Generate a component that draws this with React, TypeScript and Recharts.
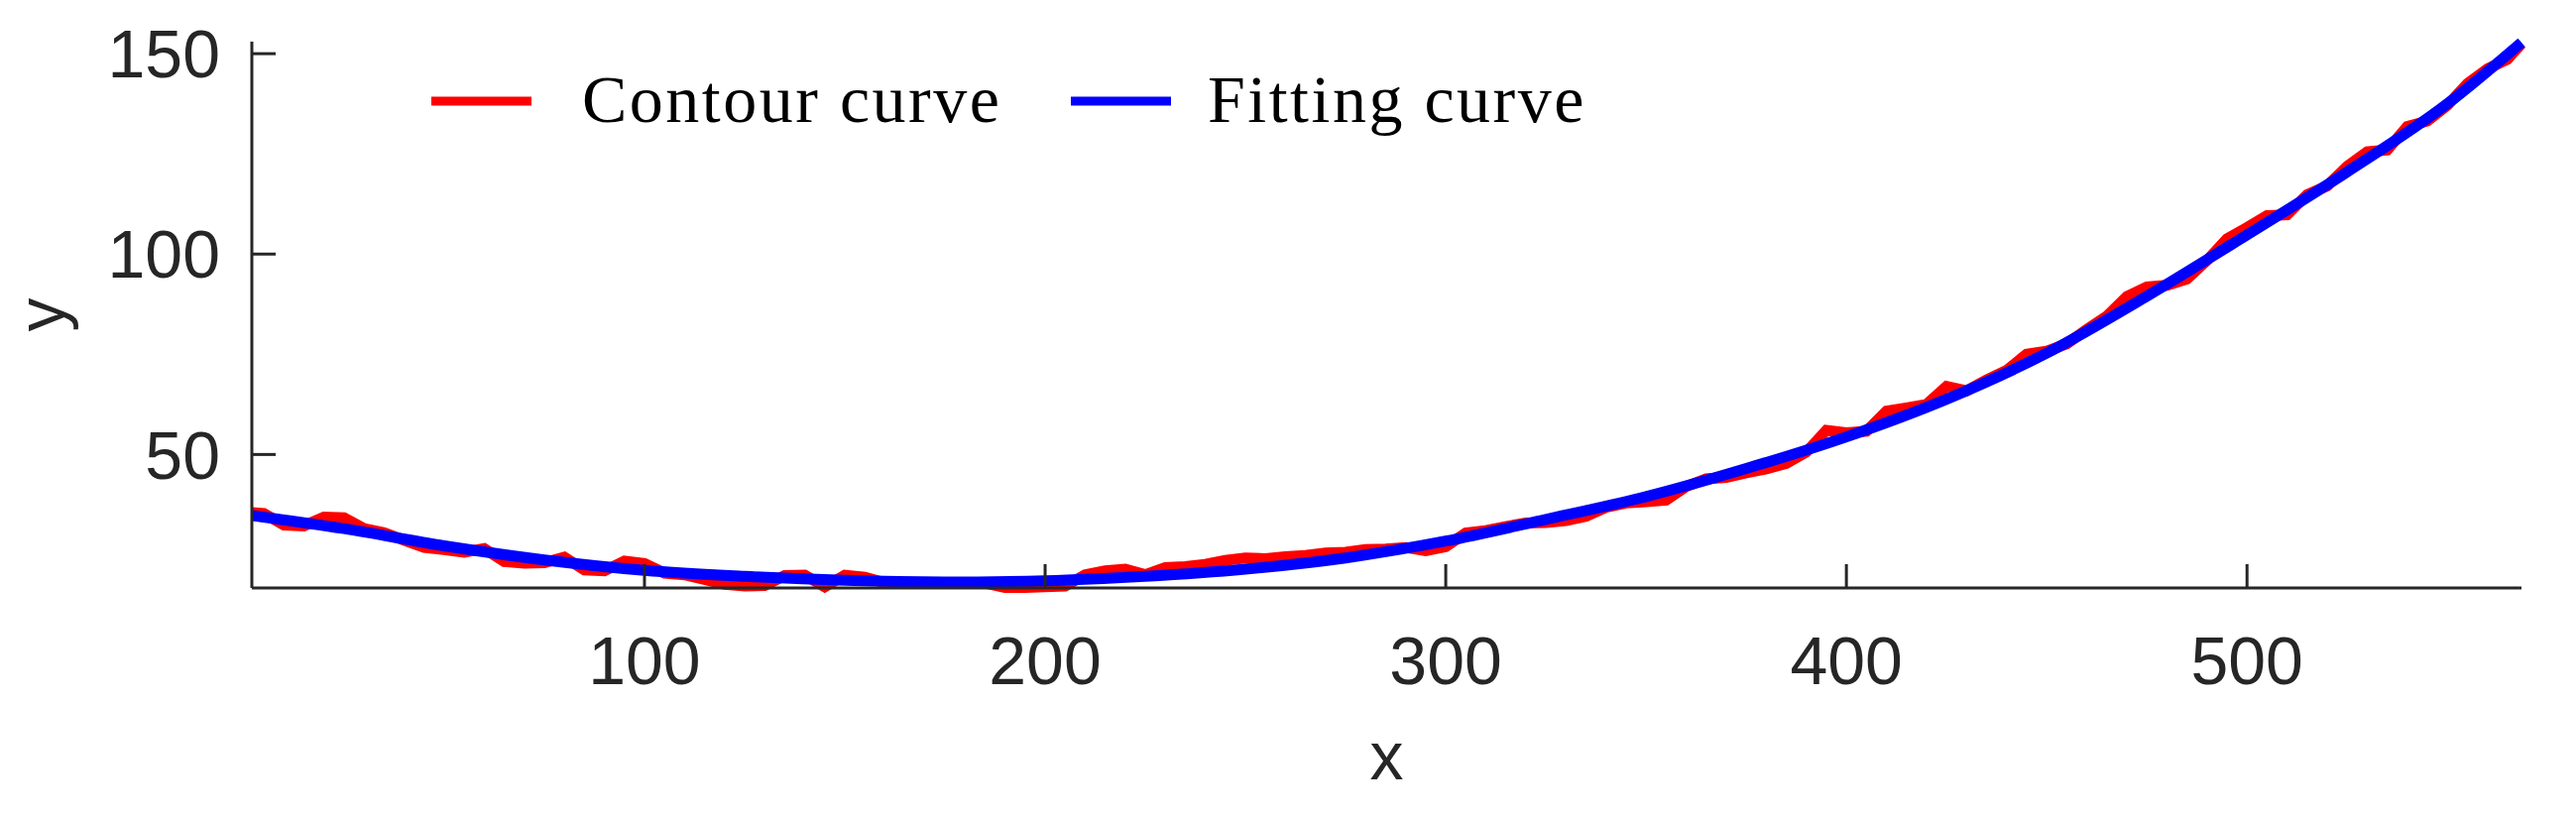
import React from "react";
import { LineChart, Line, XAxis, YAxis, Legend } from "recharts";

// axis ticks
const xTicks = [100, 200, 300, 400, 500];
const yTicks = [50, 100, 150];

// fitted curve
const fitX = [2, 25, 50, 75, 100, 125, 150, 175, 200, 225, 250, 275, 300, 325, 350, 375, 400, 425, 450, 475, 500, 525, 550, 568.5];
const fitY = [34.8, 31.5, 27.2, 23.7, 21.1, 19.6, 18.6, 18.2, 18.5, 19.6, 21.4, 24.2, 28.4, 33.8, 39.5, 46.5, 54.4, 63.8, 75.3, 89.5, 104.8, 120.5, 137.5, 152.8];

// measured contour (noisy, stair-stepped)
const contourX = [
  2, 5, 10, 15, 20, 25, 30, 35, 40, 45, 50, 55, 60, 65, 70, 75, 80, 85, 90, 95,
  100, 105, 110, 115, 120, 125, 130, 135, 140, 145, 150, 155, 160, 165, 170, 175, 180, 185, 190, 195,
  200, 205, 210, 215, 220, 225, 230, 235, 240, 245, 250, 255, 260, 265, 270, 275, 280, 285, 290, 295,
  300, 305, 310, 315, 320, 325, 330, 335, 340, 345, 350, 355, 360, 365, 370, 375, 380, 385, 390, 395,
  400, 405, 410, 415, 420, 425, 430, 435, 440, 445, 450, 455, 460, 465, 470, 475, 480, 485, 490, 495,
  500, 505, 510, 515, 520, 525, 530, 535, 540, 545, 550, 555, 560, 565, 568.5,
];
const contourY = [
  35.5, 35.3, 32.4, 32.2, 34.4, 34.2, 31.5, 30.5, 28.6, 26.8, 26.3, 25.6, 26.5, 23.3, 22.9, 23.0, 24.4, 21.2, 21.0, 23.4,
  22.8, 20.4, 20.0, 18.8, 17.6, 17.2, 17.3, 19.8, 19.9, 17.0, 19.9, 19.4, 18.0, 17.8, 17.9, 18.0, 17.8, 17.9, 16.8, 16.8,
  17.0, 17.2, 20.0, 21.0, 21.4, 20.0, 21.8, 22.0, 22.6, 23.6, 24.2, 24.0, 24.5, 24.8, 25.4, 25.6, 26.3, 26.4, 26.8, 26.0,
  27.0, 30.4, 31.0, 32.0, 32.9, 33.0, 33.5, 34.6, 36.8, 37.9, 38.2, 38.6, 42.0, 43.9, 44.3, 45.4, 46.4, 47.8, 50.6, 56.0,
  55.4, 55.8, 60.8, 61.6, 62.5, 67.0, 65.9, 68.6, 71.0, 75.0, 75.8, 77.6, 81.2, 84.5, 89.4, 91.8, 92.2, 93.8, 98.4, 103.8,
  106.6, 109.6, 109.8, 114.8, 117.0, 121.9, 125.5, 126.0, 131.8, 133.2, 137.1, 142.5, 146.2, 148.6, 152.5,
];

const contourData = contourX.map((x, i) => ({ x, y: contourY[i] }));
const fitData = fitX.map((x, i) => ({ x, y: fitY[i] }));

const serif = "'Liberation Serif', 'Times New Roman', serif";
const sans = "'Liberation Sans', Arial, sans-serif";
const axisColor = "#262626";

const LegendBox = () => (
  <svg width={1700} height={180}>
    <line x1={435} x2={536} y1={102} y2={102} stroke="#ff0000" strokeWidth={9} />
    <text x={587} y={123} fontSize={68} fontFamily={serif} letterSpacing={2.5} fill="#000">
      Contour curve
    </text>
    <line x1={1080} x2={1181} y1={102} y2={102} stroke="#0000ff" strokeWidth={9} />
    <text x={1218} y={123} fontSize={68} fontFamily={serif} letterSpacing={2.5} fill="#000">
      Fitting curve
    </text>
  </svg>
);

const YLabel = (props: any) => {
  const vb = props.viewBox || { x: 0, y: 42, height: 551 };
  const cy = vb.y + vb.height / 2;
  return (
    <text x={65} y={cy} transform={`rotate(-90, 65, ${cy})`} textAnchor="middle" fontSize={68} fontFamily={sans} fill={axisColor}>
      y
    </text>
  );
};

export default function App() {
  return (
    <div style={{ position: "absolute", left: 0, top: 0, width: 2598, height: 824, background: "#fff" }}>
      <LineChart width={2598} height={824} margin={{ top: 42, right: 55, left: 0, bottom: 0 }}>
        <XAxis
          type="number"
          dataKey="x"
          domain={[2, 568.5]}
          ticks={xTicks}
          height={231}
          stroke={axisColor}
          strokeWidth={3}
          tickSize={-24}
          tickMargin={73}
          tick={{ fontSize: 68, fontFamily: sans, fill: axisColor }}
          label={{ value: "x", position: "insideBottom", offset: 38, fontSize: 68, fontFamily: sans, fill: axisColor }}
        />
        <YAxis
          type="number"
          dataKey="y"
          domain={[16.7, 153]}
          ticks={yTicks}
          width={254}
          stroke={axisColor}
          strokeWidth={3}
          tickSize={-24}
          tickMargin={56}
          tick={{ fontSize: 68, fontFamily: sans, fill: axisColor }}
          label={YLabel}
        />
        <Legend
          layout="horizontal"
          verticalAlign="middle"
          align="center"
          wrapperStyle={{ left: 0, top: 0, width: 1700, height: 180 }}
          content={() => <LegendBox />}
        />
        <Line
          data={contourData}
          dataKey="y"
          name="Contour curve"
          type="linear"
          stroke="#ff0000"
          strokeWidth={11}
          dot={false}
          isAnimationActive={false}
        />
        <Line
          data={fitData}
          dataKey="y"
          name="Fitting curve"
          type="monotone"
          stroke="#0000ff"
          strokeWidth={11}
          dot={false}
          isAnimationActive={false}
        />
      </LineChart>
    </div>
  );
}
